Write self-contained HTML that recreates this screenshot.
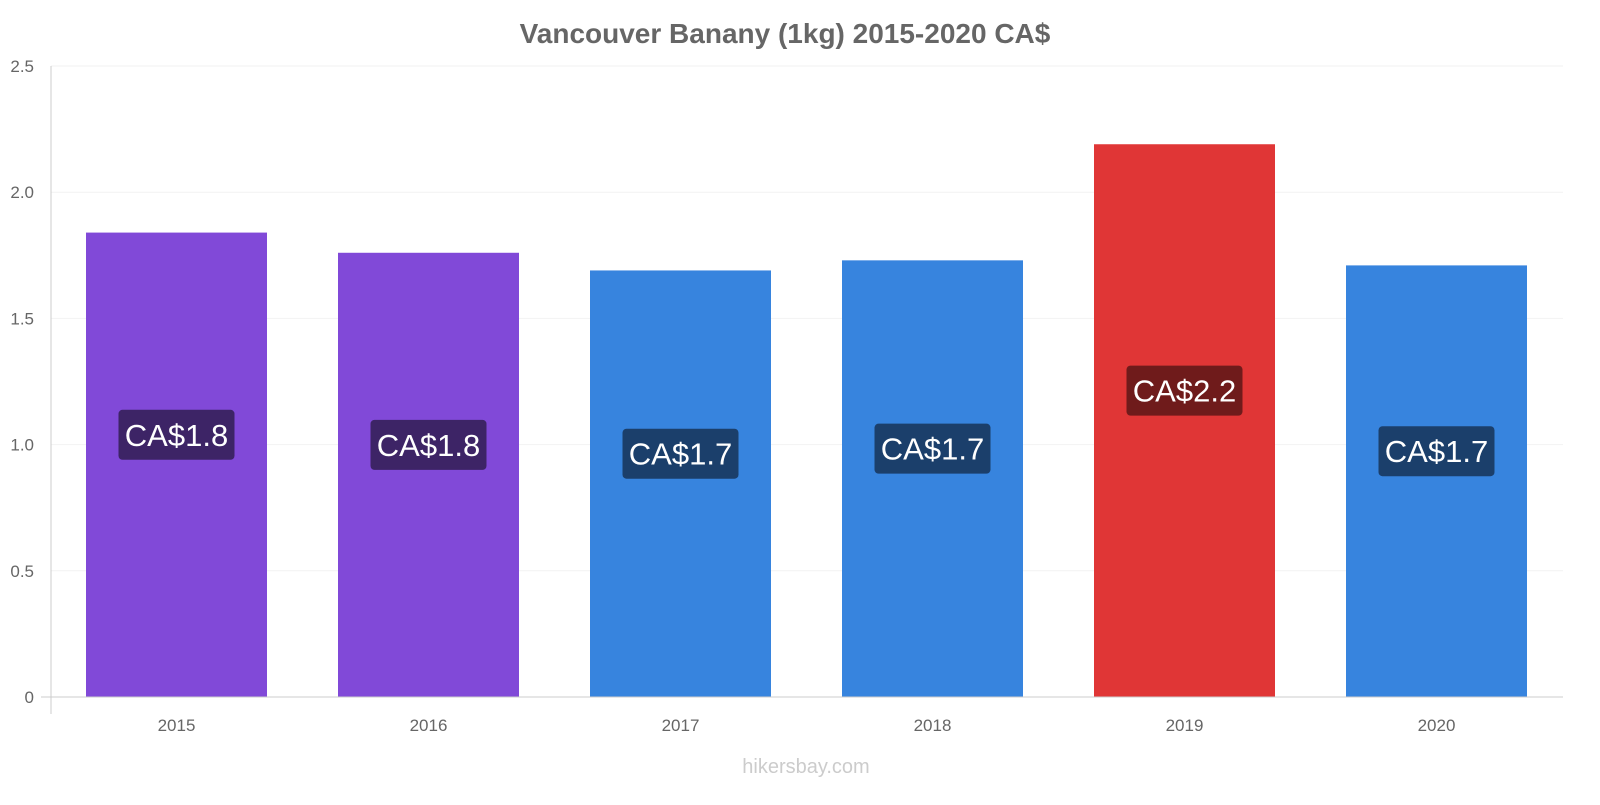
<!DOCTYPE html>
<html><head><meta charset="utf-8">
<style>
body{margin:0;background:#fff;font-family:"Liberation Sans",sans-serif;}
svg text{font-family:"Liberation Sans",sans-serif;}
</style></head>
<body>
<svg width="1600" height="800" xmlns="http://www.w3.org/2000/svg">
<text x="785" y="43" text-anchor="middle" font-size="28" font-weight="bold" fill="#666">Vancouver Banany (1kg) 2015-2020 CA$</text>
<g id="grid"></g>
<g id="yaxis"></g>
<g id="bars"></g>
<g id="xaxis"></g>
<text x="806" y="773" text-anchor="middle" font-size="20" fill="#ccc">hikersbay.com</text>
</svg>
<script>
const categories=["2015","2016","2017","2018","2019","2020"];
const values=[1.84,1.76,1.69,1.73,2.19,1.71];
const labels=["CA$1.8","CA$1.8","CA$1.7","CA$1.7","CA$2.2","CA$1.7"];
const yTicks=[0,0.5,1,1.5,2,2.5];
const yTickLabels=["0","0.5","1.0","1.5","2.0","2.5"];
const NS="http://www.w3.org/2000/svg";
const y0=697,y1=66,yMax=2.5,xL=51,xR=1563;
const y=v=>y0-(v/yMax)*(y0-y1);
const slot=(xR-xL)/categories.length;
const x=i=>xL+i*slot;
function mk(t,a,p){const e=document.createElementNS(NS,t);for(const k in a)e.setAttribute(k,a[k]);p.appendChild(e);return e;}
const grid=document.getElementById('grid'),ya=document.getElementById('yaxis'),bars=document.getElementById('bars'),xa=document.getElementById('xaxis');
yTicks.forEach((t,i)=>{
 const l=mk('line',{x1:xL,x2:xR,y1:y(t),y2:y(t),stroke:'#f2f2f2'},grid);
 
 
 const tx=mk('text',{x:34,y:y(t)+6,'text-anchor':'end','font-size':17,fill:'#666'},ya);
 tx.textContent=yTickLabels[i];
 
 
});
mk('line',{x1:xL,x2:xL,y1:y1,y2:714,stroke:'#ccc'},ya);
mk('line',{x1:xL-10,x2:xR,y1:y0,y2:y0,stroke:'#ccc'},xa);
values.forEach((v,i)=>{
 const col=v>=2?'#e03636':(v>=1.75?'#8149d8':'#3784de');
 const dark=v>=2?'#6f1b1b':(v>=1.75?'#3d2466':'#1b3f6b');
 const bx=x(i)+35,bw=181,top=y(v);
 const r=mk('rect',{x:bx,y:top,width:bw,height:y0-top,fill:col},bars);
 
 
 const cx=bx+bw/2,cy=(top+y0)/2-30;
 const lb=mk('rect',{x:cx-58,y:cy-25,width:116,height:50,rx:4,fill:dark},bars);
 
 
 const lt=mk('text',{x:cx,y:cy+11,'text-anchor':'middle','font-size':31,fill:'#fff'},bars);
 lt.textContent=labels[i];
 
 
 const xt=mk('text',{x:cx,y:731,'text-anchor':'middle','font-size':17,fill:'#666'},xa);
 xt.textContent=categories[i];
 
 
});
</script>
</body></html>
